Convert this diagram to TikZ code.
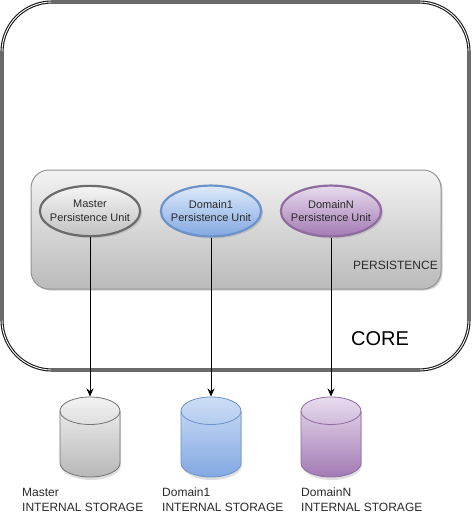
\documentclass[tikz,border=0pt]{standalone}
\usepackage{fontspec}
\setmainfont{Liberation Sans}
\usetikzlibrary{shapes.geometric,shadows,calc,arrows.meta}
\definecolor{txt}{HTML}{2A2A2A}
\definecolor{bluetop}{RGB}{222,234,250}
\definecolor{bluebot}{RGB}{130,168,226}
\definecolor{bluecyl}{RGB}{205,222,246}
\definecolor{bluedraw}{RGB}{108,146,200}
\definecolor{purptop}{RGB}{232,220,238}
\definecolor{purpbot}{RGB}{163,122,180}
\definecolor{purpdraw}{RGB}{143,107,160}
\tikzset{
  x=1pt,y=-1pt,
  corebox/.style={draw=black!90,double=white,double distance=0.9pt,line width=1.1pt,rounded corners=50pt},
  persistbox/.style={draw=black!42,line width=1pt,rounded corners=18pt,top color=black!5,bottom color=black!27,
    drop shadow={shadow xshift=1.5pt,shadow yshift=-1.5pt,fill=black!30,opacity=.6}},
  unit/.style={ellipse,inner xsep=-4.6pt,inner ysep=7.2pt,line width=2.2pt,align=center,
    font=\fontsize{11}{13.5}\selectfont,text=txt,
    drop shadow={shadow xshift=2pt,shadow yshift=-2pt,fill=black!30,opacity=.6}},
  lbl/.style={font=\fontsize{12}{15}\selectfont,text=txt,align=left,inner sep=0pt},
  link/.style={draw=black,line width=0.8pt,-{Stealth[length=8pt,width=7pt]}},
}
% x, colour top, colour bottom, border, name
\newcommand{\storagecyl}[5]{%
  \fill[black!25,opacity=.5] (#1-29,412) -- (#1-29,465) arc[start angle=180,end angle=360,x radius=30pt,y radius=15pt] -- (#1+31,412) -- cycle;
  \path[draw=#4,line width=0.8pt,top color=#2,bottom color=#3]
    (#1-30,411) arc[start angle=180,end angle=0,x radius=30pt,y radius=14pt]
    -- (#1+30,463) arc[start angle=360,end angle=180,x radius=30pt,y radius=14pt] -- cycle;
  \draw[#4,line width=0.8pt] (#1-30,411) arc[start angle=180,end angle=360,x radius=30pt,y radius=13.5pt];
  \coordinate (#5) at (#1,396.5);
}
\begin{document}
\begin{tikzpicture}
\useasboundingbox (0,0) rectangle (474,515);
\fill[white] (0,0) rectangle (474,515);
\draw[corebox] (2,2) rectangle (469,370);
\path[persistbox] (31,170) rectangle (441,289);
\node[unit,draw=black!58,top color=black!4,bottom color=black!24] (master) at (90,211) {Master\\Persistence Unit};
\node[unit,draw=bluedraw,top color=bluetop,bottom color=bluebot] (domainone) at (211,211) {Domain1\\Persistence Unit};
\node[unit,draw=purpdraw,top color=purptop,bottom color=purpbot] (domainn) at (331,211) {DomainN\\Persistence Unit};
\node[lbl,anchor=base east] (plabel) at (438,269) {PERSISTENCE};
\node[inner sep=0pt,anchor=base west,font=\fontsize{20}{24}\selectfont,text=black] (corelabel) at (351,345) {CORE};
\storagecyl{90}{black!5}{black!28}{black!55}{smaster}
\storagecyl{211}{bluecyl}{bluebot}{bluedraw}{sdomainone}
\storagecyl{331}{purptop}{purpbot}{purpdraw}{sdomainn}
\draw[link] (master.south) -- (smaster);
\draw[link] (domainone.south) -- (sdomainone);
\draw[link] (domainn.south) -- (sdomainn);
\node[lbl,anchor=base west] (t1) at (22,496) {Master};
\node[lbl,anchor=base west] (t2) at (22,511) {INTERNAL STORAGE};
\node[lbl,anchor=base west] (t3) at (162,496) {Domain1};
\node[lbl,anchor=base west] (t4) at (162,511) {INTERNAL STORAGE};
\node[lbl,anchor=base west] (t5) at (301,496) {DomainN};
\node[lbl,anchor=base west] (t6) at (301,511) {INTERNAL STORAGE};
\end{tikzpicture}
\end{document}
